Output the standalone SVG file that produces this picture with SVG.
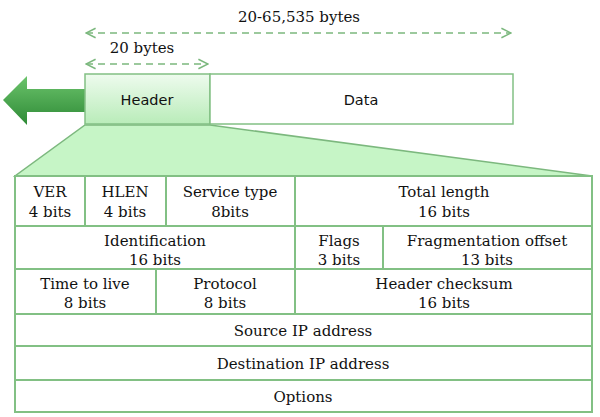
<svg xmlns="http://www.w3.org/2000/svg" width="600" height="417" viewBox="0 0 600 417">
<defs>
<style>
.t{font-family:"DejaVu Serif",serif;font-size:15px;fill:#111;text-anchor:middle}
.s{font-family:"DejaVu Sans",sans-serif;font-size:14.5px;fill:#111;text-anchor:middle}
.c{fill:#fff;stroke:#82c084;stroke-width:2}
.d{stroke:#7cb87e;stroke-width:1.5;stroke-dasharray:7,5;fill:none}
</style>
<linearGradient id="hg" x1="0" y1="0" x2="0" y2="1"><stop offset="0" stop-color="#eefbee"/><stop offset="1" stop-color="#b9ecb9"/></linearGradient>
<linearGradient id="ag" x1="0" y1="0" x2="0" y2="1"><stop offset="0" stop-color="#6cc46c"/><stop offset="1" stop-color="#2e8a36"/></linearGradient>
<marker id="m" viewBox="0 0 10 10" refX="9" refY="5" markerWidth="8" markerHeight="8" orient="auto-start-reverse"><path d="M1,1 L9,5 L1,9" fill="none" stroke="#7cb87e" stroke-width="1.3"/></marker>
</defs>
<g id="connectors">
<line class="d" x1="86" y1="33" x2="511" y2="33" marker-start="url(#m)" marker-end="url(#m)"/>
<line class="d" x1="86" y1="64" x2="208" y2="64" marker-start="url(#m)" marker-end="url(#m)"/>
<polygon points="27,76 27,89 85,89 85,112 27,112 27,125 3,100" fill="url(#ag)"/>
<polygon points="85,125 210,125 592,176 15,176" fill="#c6f5c6" stroke="#7cb87e" stroke-width="1.5"/>
</g>
<text class="t" x="299" y="22">20-65,535 bytes</text>
<text class="t" x="142" y="53">20 bytes</text>
<g id="header"><rect x="85" y="74" width="125" height="50" fill="url(#hg)" stroke="#82c084" stroke-width="1.5"/><text class="s" x="147" y="105">Header</text></g>
<g id="data"><rect x="210" y="74" width="303" height="50" fill="#fff" stroke="#82c084" stroke-width="1.5"/><text class="s" x="361" y="105">Data</text></g>
<g id="table">
<rect x="15" y="176" width="577" height="236" fill="#fff" stroke="#82c084" stroke-width="2"/>
<rect class="c" x="15" y="176" width="70" height="50"/><text class="t" x="50" y="197">VER</text><text class="t" x="50" y="217">4 bits</text>
<rect class="c" x="85" y="176" width="81" height="50"/><text class="t" x="125" y="197">HLEN</text><text class="t" x="125" y="217">4 bits</text>
<rect class="c" x="166" y="176" width="129" height="50"/><text class="t" x="230" y="197">Service type</text><text class="t" x="230" y="217">8bits</text>
<rect class="c" x="295" y="176" width="297" height="50"/><text class="t" x="444" y="197">Total length</text><text class="t" x="444" y="217">16 bits</text>
<rect class="c" x="15" y="226" width="280" height="43"/><text class="t" x="155" y="246">Identification</text><text class="t" x="155" y="265">16 bits</text>
<rect class="c" x="295" y="226" width="88" height="43"/><text class="t" x="339" y="246">Flags</text><text class="t" x="339" y="265">3 bits</text>
<rect class="c" x="383" y="226" width="209" height="43"/><text class="t" x="487" y="246">Fragmentation offset</text><text class="t" x="487" y="265">13 bits</text>
<rect class="c" x="15" y="269" width="141" height="45"/><text class="t" x="85" y="289">Time to live</text><text class="t" x="85" y="308">8 bits</text>
<rect class="c" x="156" y="269" width="139" height="45"/><text class="t" x="225" y="289">Protocol</text><text class="t" x="225" y="308">8 bits</text>
<rect class="c" x="295" y="269" width="297" height="45"/><text class="t" x="444" y="289">Header checksum</text><text class="t" x="444" y="308">16 bits</text>
<rect class="c" x="15" y="314" width="577" height="32"/><text class="t" x="303" y="336">Source IP address</text>
<rect class="c" x="15" y="346" width="577" height="34"/><text class="t" x="303" y="369">Destination IP address</text>
<rect class="c" x="15" y="380" width="577" height="32"/><text class="t" x="303" y="402">Options</text>
</g>
</svg>
